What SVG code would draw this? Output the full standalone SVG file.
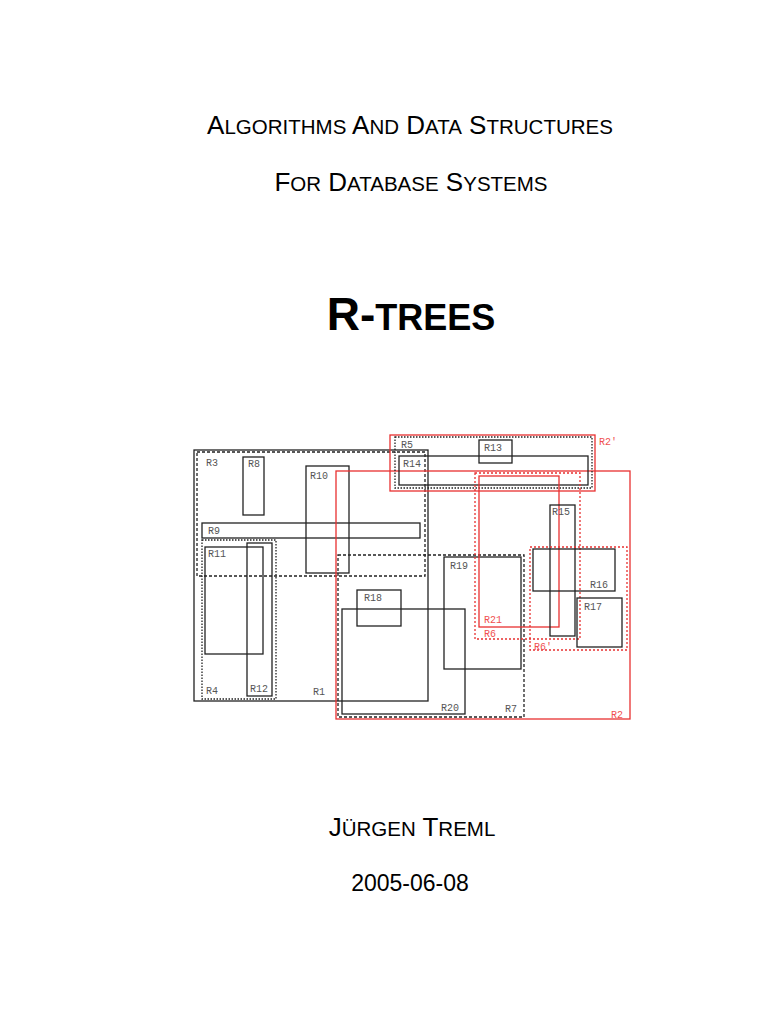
<svg xmlns="http://www.w3.org/2000/svg" width="768" height="1024" viewBox="0 0 768 1024">
<style>
.t{font-family:"Liberation Sans",Arial,sans-serif;fill:#000;text-anchor:middle}
.s{font-size:20.5px}
rect{fill:none}
.k{stroke:#222;stroke-width:1.3}
.kd{stroke:#222;stroke-width:1.3;stroke-dasharray:3,2}
.kp{stroke:#222;stroke-width:1.3;stroke-dasharray:1.5,1.5}
.r{stroke:#e83030;stroke-width:1.3}
.rd{stroke:#e83030;stroke-width:1.3;stroke-dasharray:2,2}
.l{font-family:"Liberation Mono","DejaVu Sans Mono",monospace;font-size:10px;fill:#555}
.lr{font-family:"Liberation Mono","DejaVu Sans Mono",monospace;font-size:10px;fill:#f05050}
</style>
<rect x="0" y="0" width="768" height="1024" fill="#fff"/>
<g id="title">
<text class="t" x="410" y="134" font-size="26">A<tspan class="s">LGORITHMS</tspan> A<tspan class="s">ND</tspan> D<tspan class="s">ATA</tspan> S<tspan class="s">TRUCTURES</tspan></text>
<text class="t" x="411" y="191" font-size="26">F<tspan class="s">OR</tspan> D<tspan class="s">ATABASE</tspan> S<tspan class="s">YSTEMS</tspan></text>
<text class="t" x="411" y="330" font-size="46" font-weight="bold">R-<tspan font-size="36">TREES</tspan></text>
<text class="t" x="412" y="836" font-size="26">J<tspan class="s">ÜRGEN</tspan> T<tspan class="s">REML</tspan></text>
<text class="t" x="410" y="891" font-size="23">2005-06-08</text>
</g>
<g id="rects">
<rect id="R1" class="k" x="194" y="450" width="234" height="251"/>
<rect id="R3" class="kd" x="197" y="452" width="228" height="124"/>
<rect id="R8" class="k" x="243" y="457" width="21" height="58"/>
<rect id="R10" class="k" x="306" y="466" width="43" height="107"/>
<rect id="R9" class="k" x="202" y="523" width="218" height="15"/>
<rect id="R4" class="kp" x="202" y="540" width="74" height="159"/>
<rect id="R11" class="k" x="205" y="547" width="58" height="107"/>
<rect id="R12" class="k" x="247" y="543" width="25" height="153"/>
<rect id="R18" class="k" x="357" y="590" width="44" height="36"/>
<rect id="R20" class="k" x="342" y="609" width="123" height="105"/>
<rect id="R7" class="kd" x="338" y="555" width="186" height="162"/>
<rect id="R19" class="k" x="444" y="557" width="77" height="112"/>
<rect id="R2" class="r" x="336" y="471" width="294" height="248"/>
<rect id="R2p" class="r" x="390" y="435" width="205" height="56"/>
<rect id="R5" class="kp" x="395" y="437" width="197" height="51"/>
<rect id="R13" class="k" x="479" y="440" width="33" height="23"/>
<rect id="R14" class="k" x="399" y="456" width="189" height="29"/>
<rect id="R21" class="r" x="479" y="476" width="80" height="151"/>
<rect id="R6" class="rd" x="475" y="473" width="105" height="166"/>
<rect id="R15" class="k" x="550" y="505" width="25" height="131"/>
<rect id="R6p" class="rd" x="530" y="547" width="97" height="103"/>
<rect id="R16" class="k" x="533" y="549" width="82" height="42"/>
<rect id="R17" class="k" x="577" y="598" width="45" height="49"/>
</g>
<g id="labels">
<text class="l" x="206" y="466">R3</text>
<text class="l" x="248" y="467">R8</text>
<text class="l" x="310" y="479">R10</text>
<text class="l" x="208" y="534">R9</text>
<text class="l" x="208" y="557">R11</text>
<text class="l" x="206" y="694">R4</text>
<text class="l" x="250" y="692">R12</text>
<text class="l" x="313" y="695">R1</text>
<text class="l" x="364" y="601">R18</text>
<text class="l" x="401" y="448">R5</text>
<text class="l" x="403" y="467">R14</text>
<text class="l" x="484" y="451">R13</text>
<text class="lr" x="599" y="445">R2'</text>
<text class="l" x="552" y="515">R15</text>
<text class="l" x="450" y="569">R19</text>
<text class="l" x="590" y="588">R16</text>
<text class="l" x="584" y="610">R17</text>
<text class="lr" x="484" y="623">R21</text>
<text class="lr" x="484" y="637">R6</text>
<text class="lr" x="534" y="650">R6'</text>
<text class="l" x="441" y="711">R20</text>
<text class="l" x="505" y="712">R7</text>
<text class="lr" x="611" y="718">R2</text>
</g>
</svg>
